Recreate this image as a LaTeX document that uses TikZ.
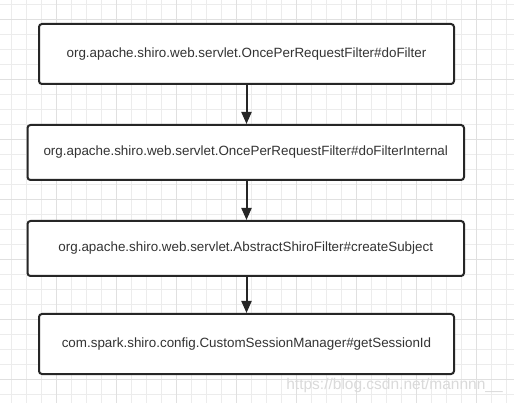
\documentclass[tikz,border=0pt]{standalone}
\usepackage{fontspec}
\setmainfont{Liberation Sans}
\usetikzlibrary{arrows.meta}
\definecolor{gridlight}{HTML}{ECECEC}
\definecolor{griddark}{HTML}{E0E0E0}
\definecolor{boxline}{HTML}{262626}
\definecolor{txt}{HTML}{333333}
\definecolor{wmark}{HTML}{DADADA}
\begin{document}
\begin{tikzpicture}[x=1pt,y=-1pt,
  box/.style={draw=boxline,line width=2pt,rounded corners=3pt,fill=white,
    inner sep=0pt,text=txt,font=\fontsize{13.4}{15}\selectfont},
  arr/.style={draw=boxline,line width=2pt,-{Triangle[length=12pt,width=10pt]}},
  gridline/.style={line width=1pt}]
\useasboundingbox[fill=white] (0,0) rectangle (514,403);
% grid
\foreach \k in {0,...,33}{\draw[gridlight,gridline] (11.5+15*\k,0) -- (11.5+15*\k,403);}
\foreach \k in {0,...,26}{\draw[gridlight,gridline] (0,4.5+15*\k) -- (514,4.5+15*\k);}
\foreach \k in {0,...,7}{\draw[griddark,gridline] (56.5+60*\k,0) -- (56.5+60*\k,403);}
\foreach \k in {0,...,6}{\draw[griddark,gridline] (0,19.5+60*\k) -- (514,19.5+60*\k);}
% boxes
\node[box,minimum width=415pt,minimum height=60pt] (a) at (246.5,54)
  {org.apache.shiro.web.servlet.OncePerRequestFilter\#doFilter};
\node[box,minimum width=436.5pt,minimum height=55pt] (b) at (245.75,152.5)
  {org.apache.shiro.web.servlet.OncePerRequestFilter\#doFilterInternal};
\node[box,minimum width=436.5pt,minimum height=55pt] (c) at (245.75,248.5)
  {org.apache.shiro.web.servlet.AbstractShiroFilter\#createSubject};
\node[box,minimum width=415pt,minimum height=60pt] (d) at (246.5,344)
  {com.spark.shiro.config.CustomSessionManager\#getSessionId};
% arrows
\draw[arr] (a.south) -- (a.south |- b.north);
\draw[arr] (a.south |- b.south) -- (a.south |- c.north);
\draw[arr] (a.south |- c.south) -- (a.south |- d.north);
% watermark
\node[text=wmark,font=\fontsize{15.5}{17}\selectfont,inner sep=0pt] (wm) at (394.5,385) {https://blog.csdn.net/mannnn\_\_};
\end{tikzpicture}
\end{document}
